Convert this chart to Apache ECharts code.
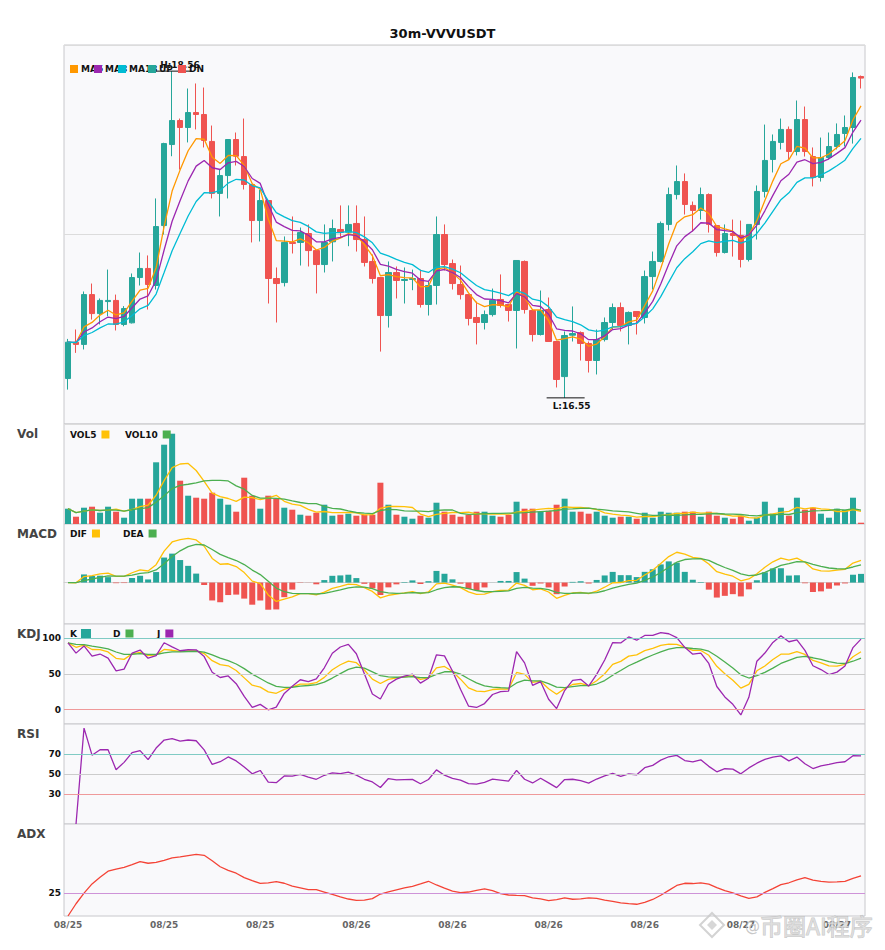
<!DOCTYPE html>
<html>
<head>
<meta charset="utf-8">
<title>30m-VVVUSDT</title>
<script src="https://cdn.jsdelivr.net/npm/echarts@6/dist/echarts.min.js"></script>
<style>
  html, body { margin: 0; padding: 0; background: #fff; }
  #main { width: 885px; height: 950px; }
</style>
</head>
<body>
<div id="main"></div>
<script>
// K线数据, 30m, 从 08/25 06:00 开始
const opens = [16.667, 16.891, 16.877, 17.184, 17.067, 17.141, 17.148, 17.000, 17.010, 17.289,
  17.345, 17.240, 17.609, 18.108, 18.256, 18.213, 18.305, 18.293, 18.127, 17.807,
  17.917, 18.139, 18.034, 17.862, 17.640, 17.763, 17.283, 17.258, 17.505, 17.505,
  17.560, 17.455, 17.369, 17.509, 17.585, 17.568, 17.622, 17.523, 17.388, 17.289,
  17.055, 17.320, 17.271, 17.277, 17.283, 17.123, 17.240, 17.554, 17.375, 17.246,
  17.184, 17.043, 17.012, 17.061, 17.154, 17.123, 17.086, 17.388, 17.086, 16.938,
  17.092, 16.895, 16.679, 16.934, 16.950, 16.883, 16.778, 16.907, 17.012, 17.104,
  16.994, 17.080, 17.043, 17.295, 17.388, 17.616, 17.800, 17.880, 17.733, 17.702,
  17.800, 17.609, 17.443, 17.560, 17.548, 17.400, 17.616, 17.819, 18.016, 18.121,
  18.201, 18.065, 18.262, 18.034, 17.905, 18.028, 18.096, 18.176, 18.213, 18.527];
const closes = [16.891, 16.877, 17.184, 17.067, 17.148, 17.148, 17.000, 17.098, 17.289, 17.345,
  17.246, 17.603, 18.114, 18.256, 18.213, 18.305, 18.293, 18.133, 17.807, 17.917,
  18.139, 18.036, 17.862, 17.640, 17.763, 17.283, 17.252, 17.505, 17.499, 17.566,
  17.455, 17.369, 17.505, 17.591, 17.568, 17.616, 17.523, 17.382, 17.283, 17.055,
  17.320, 17.271, 17.277, 17.283, 17.123, 17.240, 17.554, 17.369, 17.252, 17.184,
  17.037, 17.012, 17.061, 17.148, 17.117, 17.086, 17.394, 17.092, 16.938, 17.086,
  16.895, 16.661, 16.932, 16.944, 16.883, 16.778, 16.907, 17.012, 17.104, 16.994,
  17.074, 17.049, 17.295, 17.388, 17.622, 17.800, 17.880, 17.739, 17.702, 17.800,
  17.616, 17.443, 17.560, 17.548, 17.400, 17.616, 17.819, 18.010, 18.127, 18.201,
  18.065, 18.262, 18.065, 17.905, 18.028, 18.096, 18.170, 18.213, 18.521, 18.517];
const highs = [16.911, 16.969, 17.203, 17.252, 17.160, 17.338, 17.184, 17.113, 17.314, 17.443,
  17.425, 17.776, 18.119, 18.560, 18.268, 18.453, 18.484, 18.459, 18.225, 17.954,
  18.139, 18.182, 18.268, 17.862, 17.831, 17.763, 17.351, 17.542, 17.665, 17.597,
  17.616, 17.455, 17.616, 17.646, 17.733, 17.733, 17.733, 17.665, 17.431, 17.289,
  17.388, 17.357, 17.351, 17.338, 17.338, 17.265, 17.665, 17.616, 17.400, 17.363,
  17.184, 17.141, 17.086, 17.221, 17.308, 17.123, 17.394, 17.394, 17.086, 17.209,
  17.166, 16.895, 16.957, 17.111, 16.957, 16.895, 16.969, 17.043, 17.129, 17.135,
  17.080, 17.080, 17.332, 17.449, 17.634, 17.843, 17.979, 17.930, 17.757, 17.843,
  17.807, 17.609, 17.616, 17.646, 17.640, 17.616, 17.856, 18.231, 18.170, 18.268,
  18.219, 18.379, 18.342, 18.090, 18.151, 18.182, 18.238, 18.287, 18.552, 18.533];
const lows = [16.599, 16.825, 16.846, 17.030, 17.000, 17.051, 16.963, 16.989, 17.006, 17.240,
  17.092, 17.215, 17.554, 18.036, 17.954, 18.121, 18.201, 18.090, 17.776, 17.665,
  17.776, 17.979, 17.831, 17.505, 17.511, 17.129, 17.012, 17.234, 17.437, 17.363,
  17.357, 17.191, 17.320, 17.388, 17.540, 17.482, 17.449, 17.357, 17.252, 16.833,
  16.981, 17.160, 17.129, 17.211, 17.104, 17.055, 17.123, 17.332, 17.215, 17.154,
  16.994, 16.877, 16.969, 17.049, 17.104, 17.018, 16.852, 17.067, 16.895, 16.932,
  16.895, 16.612, 16.548, 16.895, 16.778, 16.704, 16.692, 16.895, 16.969, 16.957,
  16.877, 16.938, 17.006, 17.215, 17.382, 17.579, 17.770, 17.677, 17.572, 17.646,
  17.566, 17.418, 17.437, 17.418, 17.351, 17.388, 17.523, 17.782, 17.936, 18.078,
  18.016, 18.041, 18.034, 17.850, 17.880, 18.016, 18.078, 18.096, 18.114, 18.453];
// 成交量 (K)
const volumes = [15.3, 7.3, 16.3, 17.3, 11.3, 17.3, 12.3, 6.3, 25.3, 25.3,
  25.3, 61.7, 79.3, 90.3, 43.3, 28.3, 26.3, 25.3, 31.3, 25.3,
  19.3, 12.3, 46.3, 28.3, 15.3, 28.3, 25.3, 16.3, 14.3, 9.3,
  8.3, 11.3, 19.3, 8.3, 9.3, 10.3, 8.3, 9.3, 9.3, 41.3,
  19.3, 9.3, 7.3, 5.3, 8.3, 6.3, 21.3, 12.3, 9.3, 7.3,
  9.3, 12.3, 12.3, 8.3, 7.3, 9.3, 22.3, 15.3, 15.3, 12.3,
  13.3, 19.3, 25.3, 12.3, 12.3, 10.3, 12.3, 8.3, 6.3, 7.3,
  7.3, 5.3, 11.3, 6.3, 12.3, 11.3, 11.3, 12.3, 12.3, 7.3,
  12.3, 8.3, 6.3, 5.3, 8.3, 3.3, 6.3, 22.3, 10.3, 16.3,
  8.3, 26.3, 14.3, 16.3, 10.3, 6.3, 15.3, 14.3, 26.3, 1.3];

// 时间轴, 每根30分钟
const times = [];
for (let i = 0; i < closes.length; i++) {
  let m = 6 * 60 + i * 30;
  let day = 25 + Math.floor(m / 1440);
  m = m % 1440;
  let hh = String(Math.floor(m / 60)).padStart(2, '0');
  let mm = String(m % 60).padStart(2, '0');
  times.push('08/' + day + ' ' + hh + ':' + mm);
}

const UP = '#26A69A', DOWN = '#EF5350';
const FONT = 'DejaVu Sans';

// ---------- 指标 ----------
function ema(arr, n) {
  const k = 2 / (n + 1);
  let prev;
  return arr.map((v, i) => {
    prev = i === 0 ? v : prev + k * (v - prev);
    return +prev.toFixed(5);
  });
}
function sma(arr, n) {
  return arr.map((v, i) => {
    let s = arr.slice(Math.max(0, i - n + 1), i + 1);
    return +(s.reduce((a, b) => a + b, 0) / s.length).toFixed(3);
  });
}

// 均线用的是EMA 5/8/13
const ma5 = ema(closes, 5);
const ma8 = ema(closes, 8);
const ma13 = ema(closes, 13);
const vol5 = sma(volumes, 5);
const vol10 = sma(volumes, 10);

// MACD (5, 13, 5)
const dif = ma5.map((v, i) => +(v - ma13[i]).toFixed(5));
const dea = ema(dif, 5);
const hist = dif.map((v, i) => +(2 * (v - dea[i])).toFixed(5));

// KDJ
const kArr = [], dArr = [], jArr = [];
let K, D;
closes.forEach((c, i) => {
  let ll = Math.min(...lows.slice(Math.max(0, i - 8), i + 1));
  let hh = Math.max(...highs.slice(Math.max(0, i - 8), i + 1));
  let rsv = hh === ll ? 50 : (c - ll) / (hh - ll) * 100;
  if (i === 0) { K = rsv; D = rsv; } else { K = (2 * K + rsv) / 3; D = (2 * D + K) / 3; }
  kArr.push(+K.toFixed(2)); dArr.push(+D.toFixed(2)); jArr.push(+(3 * K - 2 * D).toFixed(2));
});

// RSI (Wilder 14)
const rsi = [null];
let ag = 0, al = 0;
for (let i = 1; i < closes.length; i++) {
  let ch = closes[i] - closes[i - 1];
  ag += (Math.max(ch, 0) - ag) / 14;
  al += (Math.max(-ch, 0) - al) / 14;
  rsi.push(ag + al === 0 ? null : +(100 * ag / (ag + al)).toFixed(2));
}

// ADX (14)
const adx = [0];
let atr, apdm, amdm, adxv = 0;
const ka = 2 / 15;
for (let i = 1; i < closes.length; i++) {
  let up = highs[i] - highs[i - 1], dn = lows[i - 1] - lows[i];
  let pdm = up > dn && up > 0 ? up : 0;
  let mdm = dn > up && dn > 0 ? dn : 0;
  let tr = Math.max(highs[i] - lows[i], Math.abs(highs[i] - closes[i - 1]), Math.abs(lows[i] - closes[i - 1]));
  if (i === 1) { atr = tr; apdm = pdm; amdm = mdm; }
  else { atr += ka * (tr - atr); apdm += ka * (pdm - apdm); amdm += ka * (mdm - amdm); }
  let pdi = apdm / atr * 100, mdi = amdm / atr * 100;
  let dx = pdi + mdi === 0 ? 0 : Math.abs(pdi - mdi) / (pdi + mdi) * 100;
  adxv += ka * (dx - adxv);
  adx.push(+adxv.toFixed(2));
}

// 最高/最低
const hiVal = Math.max(...highs), loVal = Math.min(...lows);
const hiIdx = highs.indexOf(hiVal), loIdx = lows.indexOf(loVal);
const pad = (hiVal - loVal) * 0.08;
const yMin = loVal - pad, yMax = hiVal + pad;

const macdMax = Math.max(...dif, ...dea, ...hist), macdMin = Math.min(...dif, ...dea, ...hist);
const macdPad = (macdMax - macdMin) * 0.2;

// ---------- 图表 ----------
let myChart = echarts.init(document.getElementById('main'), null, { renderer: 'svg' });

const gridTops = [45, 424, 524, 624, 724, 824];
const gridHeights = [379, 100, 100, 100, 100, 92];
const grids = gridTops.map((t, i) => ({
  left: 64, width: 801, top: t, height: gridHeights[i],
  show: true, backgroundColor: '#f9f9fb', borderColor: '#c8c8cc', borderWidth: 1
}));

const xAxes = gridTops.map((t, i) => ({
  type: 'category', gridIndex: i, data: times, boundaryGap: true,
  axisLine: { show: i === 2, onZero: true, lineStyle: { color: '#d0d0d0' } },
  axisTick: { show: false },
  splitLine: { show: false },
  axisLabel: i === 5 ? {
    show: true, interval: 11, margin: 4,
    formatter: v => v.slice(0, 5),
    fontSize: 9, fontWeight: 'bold', color: '#666', fontFamily: FONT
  } : { show: false }
}));

const yLabel = { fontSize: 9, fontWeight: 'bold', color: '#111', fontFamily: FONT, margin: 3 };
const yAxes = [
  { gridIndex: 0, min: yMin, max: yMax, interval: (yMax - yMin) / 2,
    axisLabel: { show: false }, axisLine: { show: false }, axisTick: { show: false },
    splitLine: { show: true, lineStyle: { color: '#dcdcdc' } } },
  { gridIndex: 1, min: 0, max: 100, axisLabel: { show: false }, axisLine: { show: false },
    axisTick: { show: false }, splitLine: { show: false } },
  { gridIndex: 2, min: macdMin - macdPad, max: macdMax + macdPad, axisLabel: { show: false },
    axisLine: { show: false }, axisTick: { show: false }, splitLine: { show: false } },
  { gridIndex: 3, min: -20, max: 120, axisLabel: Object.assign({ customValues: [0, 50, 100] }, yLabel),
    axisLine: { show: false }, axisTick: { show: false }, splitLine: { show: false } },
  { gridIndex: 4, min: 0, max: 100, axisLabel: Object.assign({ customValues: [30, 50, 70] }, yLabel),
    axisLine: { show: false }, axisTick: { show: false }, splitLine: { show: false } },
  { gridIndex: 5, min: 0, max: 100, axisLabel: Object.assign({ customValues: [25] }, yLabel),
    axisLine: { show: false }, axisTick: { show: false }, splitLine: { show: false } }
];

function levels(list) {
  return {
    silent: true, symbol: ['none', 'none'], label: { show: false },
    data: list.map(l => ({ yAxis: l[0], lineStyle: { color: l[1], width: 1, type: 'solid' } }))
  };
}
function line(name, data, color, xi, extra) {
  return Object.assign({
    name: name, type: 'line', data: data, xAxisIndex: xi, yAxisIndex: xi,
    showSymbol: false, smooth: false, lineStyle: { color: color, width: 1.3 },
    itemStyle: { color: color }, z: 3
  }, extra || {});
}

const isUp = closes.map((c, i) => c >= opens[i]);

// 图例
function legendItem(name, left, top, width) {
  return {
    data: [name], left: left, top: top, align: 'right', icon: 'rect',
    itemWidth: 8, itemHeight: 8, itemGap: 0, padding: 0, selectedMode: false,
    textStyle: { fontSize: 9, fontWeight: 'bold', color: '#111', fontFamily: FONT, width: width }
  };
}

// 主图图例 (挤在一起, 图标盖住后面的字)
const maLegend = [];
[['MA5', '#FF9800', 70], ['MA8', '#9C27B0', 94], ['MA13', '#00BCD4', 118], ['UP', UP, 148], ['DN', DOWN, 178]]
  .forEach(it => {
    maLegend.push({ type: 'text', x: it[2] + 11, y: 69, z: 100,
      style: { text: it[0], fill: '#111', fontSize: 9, fontWeight: 'bold', fontFamily: FONT, verticalAlign: 'middle' } });
    maLegend.push({ type: 'rect', shape: { x: it[2], y: 65, width: 8, height: 8 }, style: { fill: it[1] }, z: 101 });
  });

function panelTitle(text, top) {
  return { text: text, left: 17, top: top, padding: 0,
    textStyle: { fontSize: 12, fontWeight: 'bold', color: '#444', fontFamily: FONT } };
}

option = {
  animation: false,
  backgroundColor: '#fff',
  title: [
    { text: '30m-VVVUSDT', left: 'center', top: 27, padding: 0,
      textStyle: { fontSize: 13, fontWeight: 'bold', color: '#111', fontFamily: FONT } },
    panelTitle('Vol', 428), panelTitle('MACD', 528), panelTitle('KDJ', 628),
    panelTitle('RSI', 728), panelTitle('ADX', 828)
  ],
  legend: [
    legendItem('VOL5', 70, 430, 26), legendItem('VOL10', 125, 430, 33),
    legendItem('DIF', 70, 529, 22), legendItem('DEA', 123, 529, 25),
    legendItem('K', 70, 629, 12), legendItem('D', 113, 629, 13), legendItem('J', 157, 629, 13)
  ],
  grid: grids,
  xAxis: xAxes,
  yAxis: yAxes,
  graphic: maLegend.concat([
    { type: 'polygon', z: 100, shape: { points: [[712, 913], [724, 925], [712, 937], [700, 925]] },
      style: { fill: 'none', stroke: 'rgba(200,200,200,0.8)', lineWidth: 2 } },
    { type: 'polygon', z: 100, shape: { points: [[712, 920], [717, 925], [712, 930], [707, 925]] },
      style: { fill: 'rgba(205,205,205,0.8)' } },
    { type: 'text', x: 745, y: 926, z: 100,
      style: { text: '@', fill: 'rgba(185,185,185,0.8)', fontSize: 15, fontFamily: FONT, verticalAlign: 'middle' } },
    { type: 'text', x: 760, y: 925, z: 100,
      style: { text: '币圈AI程序', fill: 'rgba(220,220,220,0.85)', stroke: 'rgba(165,165,165,0.6)', lineWidth: 1,
        fontSize: 23, fontFamily: 'Noto Sans CJK SC', verticalAlign: 'middle' } }
  ]),
  series: [
    {
      name: 'K', type: 'candlestick', data: closes.map((c, i) => [opens[i], c, lows[i], highs[i]]),
      xAxisIndex: 0, yAxisIndex: 0, barWidth: 6,
      itemStyle: { color: UP, color0: DOWN, borderColor: UP, borderColor0: DOWN, borderWidth: 1 }
    },
    line('MA5', ma5, '#FF9800', 0),
    line('MA8', ma8, '#9C27B0', 0),
    line('MA13', ma13, '#00BCD4', 0),
    {
      type: 'custom', xAxisIndex: 0, yAxisIndex: 0, z: 10, silent: true, clip: false,
      data: [[hiIdx, hiVal, 1], [loIdx, loVal, -1]],
      renderItem: function (params, api) {
        const p = api.coord([api.value(0), api.value(1)]);
        const top = api.value(2) > 0;
        return {
          type: 'group', children: [
            { type: 'line', shape: { x1: p[0] - 18, y1: p[1], x2: p[0] + 20, y2: p[1] },
              style: { stroke: '#111', lineWidth: 1 } },
            { type: 'text', x: p[0] - 12, y: top ? p[1] - 2 : p[1] + 4,
              style: { text: (top ? 'H:' : 'L:') + api.value(1).toFixed(2), fill: '#111',
                fontSize: 9, fontWeight: 'bold', fontFamily: FONT, verticalAlign: top ? 'bottom' : 'top' } }
          ]
        };
      }
    },
    {
      name: 'Vol', type: 'bar', xAxisIndex: 1, yAxisIndex: 1, barWidth: 6,
      data: volumes.map((v, i) => ({ value: v, itemStyle: { color: isUp[i] ? UP : DOWN } }))
    },
    line('VOL5', vol5, '#FFC107', 1),
    line('VOL10', vol10, '#4CAF50', 1),
    {
      name: 'MACD', type: 'bar', xAxisIndex: 2, yAxisIndex: 2, barWidth: 6,
      data: hist.map(v => ({ value: v, itemStyle: { color: v >= 0 ? UP : DOWN } }))
    },
    line('DIF', dif, '#FFC107', 2),
    line('DEA', dea, '#4CAF50', 2),
    line('K', kArr, '#FFC107', 3, { markLine: levels([[100, '#80CBC4'], [50, '#cccccc'], [0, '#EF9A9A']]) }),
    line('D', dArr, '#4CAF50', 3),
    line('J', jArr, '#9C27B0', 3),
    line('RSI', rsi, '#9C27B0', 4, { markLine: levels([[70, '#80CBC4'], [50, '#cccccc'], [30, '#EF9A9A']]) }),
    line('ADX', adx, '#F44336', 5, { markLine: levels([[25, '#CE93D8']]) })
  ]
};

myChart.setOption(option);
</script>
</body>
</html>
